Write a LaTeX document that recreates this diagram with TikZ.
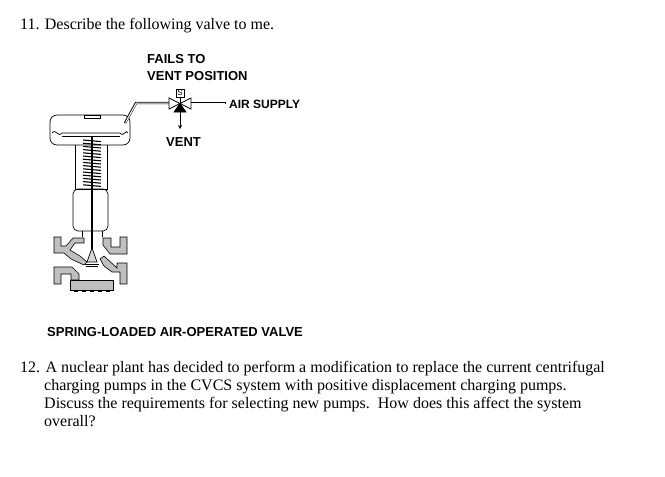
\documentclass[tikz,border=0pt]{standalone}
\usepackage{fontspec}
\setmainfont{Liberation Serif}
\newfontfamily\lab{Liberation Sans}
\begin{document}
\begin{tikzpicture}[x=1pt,y=-1pt,
  lbl/.style={font=\lab\bfseries\fontsize{13}{14}\selectfont,inner sep=0,anchor=base west},
  txt/.style={font=\fontsize{16}{18}\selectfont,inner sep=0,anchor=base west},
  part/.style={draw=black,line width=0.7pt},
  metal/.style={draw=black,fill=gray!50,line width=0.6pt}]
\useasboundingbox (0,0) rectangle (665,477);
% texts
\node[txt] (q11) at (20,29) {11. Describe the following valve to me.};
\node[lbl] (fails) at (147,63.5) {FAILS TO};
\node[lbl] (ventpos) at (147,80.5) {VENT POSITION};
\node[lbl,font=\lab\bfseries\fontsize{12}{14}\selectfont] (air) at (229,108) {AIR SUPPLY};
\node[lbl] (vent) at (166,146.5) {VENT};
\node[lbl] (cap) at (47,336.5) {SPRING-LOADED AIR-OPERATED VALVE};
\node[txt] (q12a) at (20,372) {12. A nuclear plant has decided to perform a modification to replace the current centrifugal};
\node[txt] (q12b) at (44,390) {charging pumps in the CVCS system with positive displacement charging pumps.};
\node[txt] (q12c) at (44,408) {Discuss the requirements for selecting new pumps.\ \ How does this affect the system};
\node[txt] (q12d) at (44,426) {overall?};
% diaphragm housing
\draw[part,rounded corners=7] (50,115) rectangle (130,145);
\draw[part] (84,115) rectangle (100,118);
\draw[part] (52,133) .. controls (56,128) and (58,138) .. (62,133) -- (120,133) .. controls (124,138) and (126,128) .. (128,133);
\draw[part] (62,136) -- (120,136);
% spring column
\draw[part] (75,145) -- (75,189) -- (107,189) -- (107,145);
\foreach \i in {0,...,14} \draw[line width=1.1pt] (83,{140+3.2*\i}) -- (101,{141.6+3.2*\i});
% bonnet
\draw[part,rounded corners=5] (73,189) rectangle (108,231);
\draw[part] (82,231) -- (82,237) (102,231) -- (102,237);
% stem
\draw[line width=1.6pt] (92,136) -- (92,250);
% body
\draw[metal] (54,237)--(61,237)--(61,246)--(66,246)--(73,238)--(84,238)--(84,243)--(75,243)--(70,250)--(80,256)--(87,262)--(84,265)--(71,259)--(64,253)--(54,253)--cycle;
\draw[metal] (103,238)--(111,238)--(111,247)--(120,247)--(120,237)--(127,237)--(127,254)--(110,254)--(103,245)--cycle;
\draw[metal] (54,267)--(72,267)--(79,274)--(79,280)--(71,280)--(71,274)--(61,274)--(61,284)--(54,284)--cycle;
\draw[metal] (100,259)--(104,256)--(117,268)--(117,263)--(127,263)--(127,284)--(120,284)--(120,272)--(112,272)--(104,266)--cycle;
\draw[metal] (70,280) rectangle (113,290);
\foreach \x in {74,82,90,98,106} \fill (\x,290) rectangle ++(4,2);
% plug
\draw[part,fill=gray!30] (92,248) -- (97,262) -- (87,262) -- cycle;
\draw[part] (85,264) -- (99,264) (86,266) -- (98,266);
% pipe & solenoid valve
\coordinate (sv) at (180,104);
\draw[line width=2.4pt] (125,123) -- (136,103) -- (169,103);
\draw[white,line width=1pt] (125.5,122.6) -- (136.3,103) -- (169,103);
\draw[line width=2.4pt] (191,103) -- (226,103);
\draw[white,line width=1pt] (191,103) -- (225,103);
\draw[part,fill=white] (169,98) -- (180,103.5) -- (169,109) -- cycle;
\draw[part,fill=white] (191,98) -- (180,103.5) -- (191,109) -- cycle;
\draw[part,fill=black] (180,103.5) -- (174,112) -- (186,112) -- cycle;
\draw[part] (180,103.5) -- (180,97);
\node[draw,inner sep=0.5pt,font=\lab\fontsize{8}{8}\selectfont,minimum size=8pt] (s) at (180,93) {S};
\draw[line width=0.8pt,-stealth] (180,112) -- (180,129);
\end{tikzpicture}
\end{document}
